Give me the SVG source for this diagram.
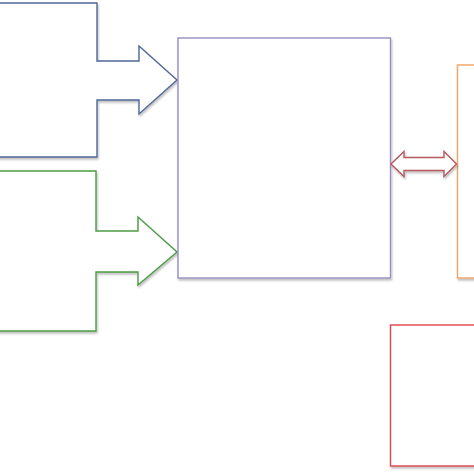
<svg xmlns="http://www.w3.org/2000/svg" width="474" height="474" viewBox="0 0 474 474">
<defs>
<filter id="sh" x="-10%" y="-10%" width="130%" height="130%">
<feGaussianBlur in="SourceAlpha" stdDeviation="1"/>
<feOffset dx="1" dy="1.5" result="b"/>
<feComponentTransfer><feFuncA type="linear" slope="0.25"/></feComponentTransfer>
<feMerge><feMergeNode/><feMergeNode in="SourceGraphic"/></feMerge>
</filter>
</defs>
<style>
.s{fill:#ffffff;stroke-width:1.4;stroke-linejoin:miter;filter:url(#sh)}
</style>
<rect width="474" height="474" fill="#ffffff"/>
<g id="blue-arrow">
<path class="s" stroke="#4F6896" d="M-5,3 H97 V61 H139 V46 L177,80 L139,114 V100 H97 V157 H-5"/>
</g>
<g id="green-arrow">
<path class="s" stroke="#4C9A44" d="M-5,171 H96 V231 H138 V217 L177,252 L138,285 V272 H96 V331 H-5"/>
</g>
<g id="purple-box">
<rect class="s" stroke="#9A8DC2" x="178" y="38" width="212.5" height="240"/>
</g>
<g id="orange-box">
<rect class="s" stroke="#F2A463" x="457.5" y="65" width="30" height="213"/>
</g>
<g id="red-box">
<rect class="s" stroke="#E2424C" x="390.5" y="325" width="100" height="141"/>
</g>
<g id="connectors">
<path class="s" stroke="#B65A5C" d="M391,164 L404,151.5 V157.5 H444 V151.5 L456.5,164 L444,176.5 V170.5 H404 V176.5 Z"/>
</g>
</svg>
